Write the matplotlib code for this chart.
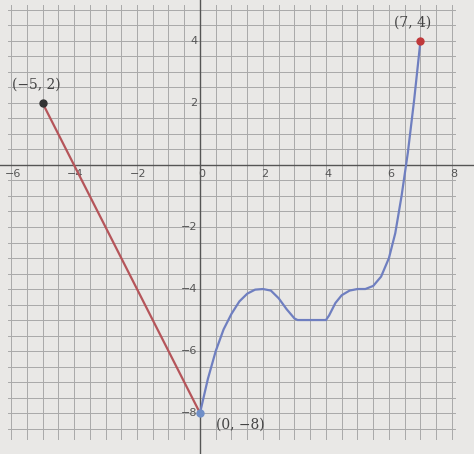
import numpy as np
import matplotlib.pyplot as plt

# red segment
red_x = [-5, 0]
red_y = [2, -8]

# blue curve
blue_x = [0, 0.25, 0.5, 0.75, 1, 1.25, 1.5, 1.75, 2, 2.25, 2.5, 2.75, 3, 3.1,
          4, 4.1, 4.3, 4.5, 4.75, 5, 5.25, 5.5, 5.75, 6, 6.2, 6.4, 6.6, 6.8, 7]
blue_y = [-8, -6.9, -6.0, -5.3, -4.8, -4.4, -4.15, -4.02, -4, -4.05, -4.3, -4.65, -4.95, -5,
          -5, -4.85, -4.45, -4.2, -4.05, -4, -4, -3.9, -3.6, -3.0, -2.2, -1.0, 0.4, 2.1, 4]

xticks = [-6, -4, -2, 0, 2, 4, 6, 8]
yticks = [-8, -6, -4, -2, 2, 4]

fig = plt.figure(figsize=(4.74, 4.54), dpi=100, facecolor='#e9e8e6')
ax = fig.add_axes([0, 0, 1, 1])
ax.set_facecolor('#e9e8e6')
ax.set_xlim(-6.35, 8.7)
ax.set_ylim(-9.32, 5.32)

grid_x = np.arange(-6, 8.01, 0.5)
grid_y = np.arange(-8.5, 5.01, 0.5)
for gx in grid_x:
    ax.plot([gx, gx], [-8.85, 5.15], color='#a9a9a9', lw=0.7, zorder=1)
for gy in grid_y:
    ax.plot([-6.1, 8.1], [gy, gy], color='#a9a9a9', lw=0.7, zorder=1)

ax.axhline(0, color='#555555', lw=1, zorder=2)
ax.axvline(0, color='#555555', lw=1, zorder=2)

for t in xticks:
    ax.text(t + 0.05, -0.12, str(t).replace('-', '−'), fontsize=8, color='#555555', va='top', ha='center')
for t in yticks:
    ax.text(-0.08, t, str(t).replace('-', '−'), fontsize=8, color='#555555', va='center', ha='right')

ax.plot(red_x, red_y, color='#b5555a', lw=1.6, zorder=3)
ax.plot(blue_x, blue_y, color='#6f7fc0', lw=1.6, zorder=3)
ax.plot([-5], [2], 'o', color='#333333', ms=5, zorder=4)
ax.plot([7], [4], 'o', color='#c0393b', ms=5, zorder=4)
ax.plot([0], [-8], 'o', color='#6f8fc8', ms=5, zorder=4)

ax.text(-5.2, 2.35, '(−5, 2)', fontsize=10, color='#444444', ha='center', va='bottom', family='serif')
ax.text(6.75, 4.35, '(7, 4)', fontsize=10, color='#444444', ha='center', va='bottom', family='serif')
ax.text(0.5, -8.15, '(0, −8)', fontsize=10, color='#444444', ha='left', va='top', family='serif')

ax.axis('off')
fig.savefig('out.png', dpi=100, facecolor=fig.get_facecolor())
